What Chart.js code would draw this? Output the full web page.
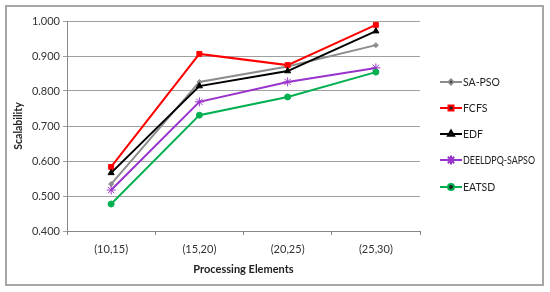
<!DOCTYPE html>
<html>
<head>
<meta charset="utf-8">
<script src="https://cdn.jsdelivr.net/npm/chart.js@4"></script>
<style>
  body { margin: 0; background: #fff; }
  #wrap { width: 550px; height: 292px; }
</style>
</head>
<body>
<div id="wrap"><canvas id="scaleChart" width="550" height="292"></canvas></div>
<script>
// データ
const categories = ['(10,15)', '(15,20)', '(20,25)', '(25,30)'];
const seriesNames = ['SA-PSO', 'FCFS', 'EDF', 'DEELDPQ-SAPSO', 'EATSD'];
const saPso = [0.534, 0.826, 0.870, 0.931];
const fcfs = [0.583, 0.906, 0.874, 0.989];
const edf = [0.566, 0.814, 0.857, 0.971];
const deeldpq = [0.517, 0.769, 0.826, 0.866];
const eatsd = [0.477, 0.731, 0.783, 0.854];

const colors = ['#8c8c8c', '#ff0000', '#000000', '#9933cc', '#00b050'];
const markers = ['rectRot', 'rect', 'triangle', 'star', 'circle'];
const radii = [2.5, 3.5, 3.5, 4.5, 3];
const values = [saPso, fcfs, edf, deeldpq, eatsd];

const fontFam = 'Lato, "Liberation Sans", sans-serif';

// 外枠と凡例を描くプラグイン
const frameAndLegend = {
    id: 'frameAndLegend',
    afterDraw(chart) {
        const ctx = chart.ctx;
        ctx.save();
        ctx.strokeStyle = '#a6a6a6';
        ctx.lineWidth = 2;
        ctx.strokeRect(6, 6, 537, 279);

        const ys = [82, 108, 134, 160, 187];
        ctx.font = '10.5px ' + fontFam;
        ctx.textBaseline = 'middle';
        chart.data.datasets.forEach((ds, i) => {
            const y = ys[i];
            ctx.strokeStyle = ds.borderColor;
            ctx.lineWidth = 2;
            ctx.beginPath();
            ctx.moveTo(440, y);
            ctx.lineTo(462, y);
            ctx.stroke();
            Chart.helpers.drawPoint(ctx, {
                pointStyle: ds.pointStyle,
                radius: ds.pointRadius,
                borderWidth: 1
            }, 451, y);
            ctx.fillStyle = '#222';
            ctx.fillText(ds.label, 463, y + 1, 72);
        });
        ctx.restore();
    }
};

const ctx = document.getElementById('scaleChart').getContext('2d');
new Chart(ctx, {
    type: 'line',
    data: {
        labels: categories,
        datasets: seriesNames.map((name, i) => ({
            label: name,
            data: values[i],
            borderColor: colors[i],
            backgroundColor: colors[i],
            borderWidth: 2,
            pointStyle: markers[i],
            pointRadius: radii[i],
            pointBorderWidth: 1,
            tension: 0,
            order: 5 - i
        }))
    },
    options: {
        responsive: false,
        animation: false,
        layout: { padding: { left: 8, top: 21, right: 130, bottom: 12 } },
        plugins: {
            legend: { display: false },
            tooltip: { enabled: false }
        },
        scales: {
            x: {
                offset: true,
                grid: {
                    offset: true,
                    drawOnChartArea: false,
                    color: '#888',
                    tickLength: 4
                },
                border: { color: '#888' },
                ticks: { color: '#333', font: { family: fontFam, size: 11 }, padding: 8 },
                title: {
                    display: true,
                    text: 'Processing Elements',
                    color: '#222',
                    font: { family: fontFam, size: 11, weight: 'bold' },
                    padding: { top: 2 }
                },
                afterFit(scale) { scale.height = 49; }
            },
            y: {
                min: 0.4,
                max: 1.0,
                ticks: {
                    stepSize: 0.1,
                    color: '#333',
                    font: { family: fontFam, size: 11 },
                    callback: v => v.toFixed(3)
                },
                grid: { color: '#a0a0a0', tickLength: 4 },
                border: { color: '#888' },
                title: {
                    display: true,
                    text: 'Scalability',
                    color: '#222',
                    font: { family: fontFam, size: 10.5, weight: 'bold' }
                },
                afterFit(scale) { scale.width = 59; }
            }
        }
    },
    plugins: [frameAndLegend]
});
</script>
</body>
</html>
